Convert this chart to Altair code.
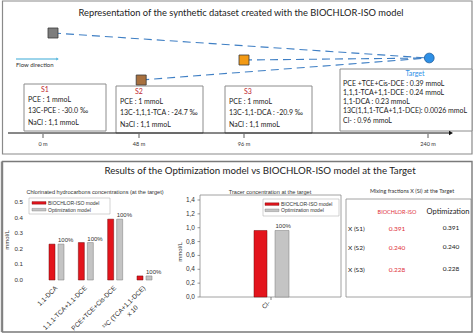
import altair as alt
import pandas as pd

W, H = 474, 336
SANS = "Lato"
ARIAL = "Liberation Sans"
RED = "#e3141c"
GRAY = "#c4c4c4"

# ---------------- data ----------------
source_names = ["S1", "S2", "S3"]
source_marker_m = [5, 49, 96]
source_colors = ["#7d7d7d", "#a8703e", "#f39a14"]
source_pce = ["PCE : 1 mmoL", "PCE : 1 mmoL", "PCE : 1 mmoL"]
source_isotope = ["13C-PCE : -30.0 \u2030", "13C-1,1,1-TCA : -24.7 \u2030", "13C-1,1-DCA : -20.9 \u2030"]
source_nacl = ["NaCl : 1,1 mmoL", "NaCl : 1,1 mmoL", "NaCl : 1,1 mmoL"]
target_m = 240
target_lines = [
    "PCE +TCE+Cis-DCE : 0.39 mmoL",
    "1,1,1-TCA+1,1-DCE : 0.24 mmoL",
    "1,1-DCA : 0.23 mmoL",
    "13C(1,1,1-TCA+1,1-DCE): 0.0026 mmoL",
    "Cl- : 0.96 mmoL",
]
dist_ticks_m = [0, 48, 96, 240]
dist_tick_labels = ["0 m", "48 m", "96 m", "240 m"]

ch_categories = ["1,1-DCA", "1,1,1-TCA+1,1-DCE", "PCE+TCE+Cis-DCE", "\u00b9\u00b3C (TCA+1,1-DCE)"]
ch_biochlor = [0.23, 0.24, 0.39, 0.026]
ch_optim = [0.23, 0.24, 0.39, 0.026]
ch_match = ["100%", "100%", "100%", "100%"]
ch_yticks = [0.0, 0.1, 0.2, 0.3, 0.4, 0.5]

tracer_categories = ["Cl-"]
tracer_biochlor = [0.96]
tracer_optim = [0.96]
tracer_match = ["100%"]
tracer_yticks = [0.0, 0.2, 0.4, 0.6, 0.8, 1.0, 1.2, 1.4]

mix_labels = ["X (S1)", "X (S2)", "X (S3)"]
mix_biochlor = [0.391, 0.240, 0.228]
mix_optim = [0.391, 0.240, 0.228]

# ---------------- scales ----------------
CX = alt.Scale(domain=[0, W], range=[0, W])
CY = alt.Scale(domain=[0, H], range=[0, H])
DX = alt.Scale(domain=[0, 48, 96, 240], range=[43, 139, 244, 428])  # distance (m) -> px
LX = alt.Scale(type="point", domain=ch_categories, range=[56.5, 144.5], padding=0)
LY = alt.Scale(domain=[0, 0.5], range=[280, 202])
MX = alt.Scale(type="point", domain=tracer_categories, range=[261, 281], padding=0.5)
MY = alt.Scale(domain=[0, 1.4], range=[297, 200])


def cx(f):
    return alt.X(f, type="quantitative", scale=CX, axis=None)


def cy(f):
    return alt.Y(f, type="quantitative", scale=CY, axis=None)


def texts(rows, size, color="#222222", align="left", font=SANS, angle=0, weight="normal"):
    df = pd.DataFrame(rows, columns=["x", "y", "t"])
    return alt.Chart(df).mark_text(
        align=align, baseline="middle", fontSize=size, color=color, font=font,
        angle=angle, fontWeight=weight
    ).encode(x=cx("x"), y=cy("y"), text="t:N")


def rects(rows, fill="white", stroke="#8c8c8c", sw=1.0, fill_opacity=1.0):
    df = pd.DataFrame(rows, columns=["x", "x2", "y", "y2"])
    return alt.Chart(df).mark_rect(
        fill=fill, stroke=stroke, strokeWidth=sw, fillOpacity=fill_opacity
    ).encode(x=cx("x"), x2="x2", y=cy("y"), y2="y2")


def hlines(rows, color, sw=1.0, dash=None):
    df = pd.DataFrame(rows, columns=["x", "x2", "y", "y2"])
    kw = dict(color=color, strokeWidth=sw)
    if dash:
        kw["strokeDash"] = dash
    return alt.Chart(df).mark_rule(**kw).encode(x=cx("x"), x2="x2", y=cy("y"), y2="y2")


layers = []

# ---------------- panel frames ----------------
layers.append(rects([[2.5, 472, 1, 154]], stroke="#8a8a8a", sw=1.2))
layers.append(rects([[2.5, 472, 161.5, 332]], stroke="#7a7a7a", sw=1.4))
layers.append(hlines([[1.6, 1.6, 161.5, 332]], "#8a8a8a", sw=1.6))

# ---------------- top diagram ----------------
layers.append(texts([[241, 13, "Representation of the synthetic dataset created with the BIOCHLOR-ISO model"]],
                    9.3, align="center"))

# dashed flow lines from each source marker to the target
marker_y = [33, 80, 60]
flow_df = pd.DataFrame({"m": source_marker_m, "y": marker_y,
                        "m2": [target_m] * 3, "y2": [58] * 3})
layers.append(alt.Chart(flow_df).mark_rule(color="#3f7fc4", strokeWidth=1.1, strokeDash=[8, 5]).encode(
    x=alt.X("m:Q", scale=DX, axis=None), x2="m2", y=cy("y"), y2="y2"))

# source boxes
box_left = [24, 116, 225]
box_right = [106, 203, 312]
box_top = [84, 86, 86]
layers.append(rects([[box_left[i], box_right[i], box_top[i], box_top[i] + 47] for i in range(3)]))
# target box
layers.append(rects([[340, 472, 69, 131]]))

# distance axis
layers.append(hlines([[8, 449, 133, 133]], "#111111", sw=1))
arrow_df = pd.DataFrame({"x": [451], "y": [133]})
layers.append(alt.Chart(arrow_df).mark_point(shape="triangle-right", size=22, filled=True, color="#111111",
                                             opacity=1).encode(x=cx("x"), y=cy("y")))
tick_df = pd.DataFrame({"m": dist_ticks_m, "lab": dist_tick_labels})
layers.append(alt.Chart(tick_df).mark_rule(color="#333333", strokeWidth=0.8).encode(
    x=alt.X("m:Q", scale=DX, axis=None), y=alt.value(134), y2=alt.value(138)))
layers.append(alt.Chart(tick_df).mark_text(fontSize=5.5, font=SANS, color="#333333", baseline="middle").encode(
    x=alt.X("m:Q", scale=DX, axis=None), y=alt.value(143.5), text="lab:N"))

# flow direction arrow
layers.append(hlines([[16, 56, 59, 59]], "#38a9d6", sw=1))
layers.append(alt.Chart(pd.DataFrame({"x": [57.5], "y": [59]})).mark_point(
    shape="triangle-right", size=8, filled=True, color="#38a9d6", opacity=1).encode(x=cx("x"), y=cy("y")))
layers.append(texts([[16, 64.5, "Flow direction"]], 6, color="#333333"))

# markers
mk_df = pd.DataFrame({"m": source_marker_m, "y": marker_y, "c": source_colors})
layers.append(alt.Chart(mk_df).mark_square(size=100, opacity=1, stroke="#3a3a3a", strokeWidth=0.8).encode(
    x=alt.X("m:Q", scale=DX, axis=None), y=cy("y"), fill=alt.Fill("c:N", scale=None)))
tg_df = pd.DataFrame({"m": [target_m + 1], "y": [58]})
layers.append(alt.Chart(tg_df).mark_circle(size=95, opacity=1, color="#2e90e6", stroke="#1d5c9c",
                                           strokeWidth=0.8).encode(
    x=alt.X("m:Q", scale=DX, axis=None), y=cy("y")))

# box texts
name_rows, line_rows = [], []
for i in range(3):
    lx = box_left[i] + 4
    t = box_top[i]
    name_rows.append([box_left[i] + 19 if i else box_left[i] + 17, t + 6, source_names[i]])
    line_rows.append([lx, t + 16, source_pce[i]])
    line_rows.append([lx, t + 27, source_isotope[i]])
    line_rows.append([lx, t + 39, source_nacl[i]])
layers.append(texts(name_rows, 7, color="#c0262d"))
layers.append(texts(line_rows, 7))
layers.append(texts([[415, 74, "Target"]], 7, color="#2e90e6", align="center"))
layers.append(texts([[343, 83.5 + 9.3 * i, target_lines[i]] for i in range(5)], 7))

# ---------------- bottom panel ----------------
layers.append(texts([[260, 171, "Results of the Optimization model vs BIOCHLOR-ISO model at the Target"]],
                    9.7, align="center"))

# --- left chart: chlorinated hydrocarbons ---
layers.append(texts([[95, 192, "Chlorinated hydrocarbons concentrations (at the target)"]], 5.6,
                    align="center", font=ARIAL, color="#333333"))
ch_df = pd.DataFrame({"cat": ch_categories, "bio": ch_biochlor, "opt": ch_optim, "m": ch_match})
layers.append(alt.Chart(ch_df).mark_bar(width=6, xOffset=-4.5, color=RED, stroke="#6e0a0a",
                                        strokeWidth=0.5).encode(
    x=alt.X("cat:N", scale=LX, axis=None), y=alt.Y("bio:Q", scale=LY, axis=None)))
layers.append(alt.Chart(ch_df).mark_bar(width=6, xOffset=4.5, color=GRAY, stroke="#7a7a7a",
                                        strokeWidth=0.5).encode(
    x=alt.X("cat:N", scale=LX, axis=None), y=alt.Y("opt:Q", scale=LY, axis=None)))
layers.append(alt.Chart(ch_df).mark_text(align="left", baseline="bottom", xOffset=1.5, yOffset=-1,
                                         fontSize=6, font=ARIAL, color="#333333").encode(
    x=alt.X("cat:N", scale=LX, axis=None), y=alt.Y("opt:Q", scale=LY, axis=None), text="m:N"))
layers.append(alt.Chart(ch_df).mark_text(align="right", baseline="middle", angle=315, xOffset=0,
                                         fontSize=6.6, font=ARIAL, color="#333333").encode(
    x=alt.X("cat:N", scale=LX, axis=None), y=alt.value(287), text="cat:N"))
layers.append(alt.Chart(pd.DataFrame({"cat": [ch_categories[3]], "t": ["x 10"]})).mark_text(
    align="center", baseline="middle", angle=315, xOffset=-12, fontSize=6.6, font=ARIAL,
    color="#333333").encode(x=alt.X("cat:N", scale=LX, axis=None), y=alt.value(311), text="t:N"))
lyt = pd.DataFrame({"v": ch_yticks, "lab": [f"{v:.1f}" for v in ch_yticks]})
layers.append(alt.Chart(lyt).mark_text(align="right", baseline="middle", fontSize=6.2, font=ARIAL,
                                       color="#333333").encode(
    x=alt.value(23), y=alt.Y("v:Q", scale=LY, axis=None), text="lab:N"))
layers.append(texts([[7, 240, "mmol/L"]], 6, align="center", font=ARIAL, angle=270, color="#333333"))
# legend
layers.append(rects([[29, 110, 198, 214]], stroke="#b5b5b5", sw=0.6))
layers.append(rects([[32, 46, 201.6, 204.2]], fill=RED, stroke="#6e0a0a", sw=0.4))
layers.append(rects([[32, 46, 208.4, 211]], fill=GRAY, stroke="#7a7a7a", sw=0.4))
layers.append(texts([[48, 203, "BIOCHLOR-ISO model"], [48, 209.8, "Optimization model"]], 5,
                    font=ARIAL, color="#333333"))

# --- middle chart: tracer ---
layers.append(texts([[270, 192, "Tracer concentration at the target"]], 5.6, align="center",
                    font=ARIAL, color="#333333"))
layers.append(rects([[200, 341, 195, 297]], stroke="#8c8c8c", sw=0.8))
tr_df = pd.DataFrame({"cat": tracer_categories, "bio": tracer_biochlor, "opt": tracer_optim,
                      "m": tracer_match})
layers.append(alt.Chart(tr_df).mark_bar(width=13, xOffset=-10.5, color=RED, stroke="#6e0a0a",
                                        strokeWidth=0.5).encode(
    x=alt.X("cat:N", scale=MX, axis=None), y=alt.Y("bio:Q", scale=MY, axis=None)))
layers.append(alt.Chart(tr_df).mark_bar(width=14, xOffset=11, color=GRAY, stroke="#7a7a7a",
                                        strokeWidth=0.5).encode(
    x=alt.X("cat:N", scale=MX, axis=None), y=alt.Y("opt:Q", scale=MY, axis=None)))
layers.append(alt.Chart(tr_df).mark_text(align="left", baseline="bottom", xOffset=4.5, yOffset=-1.5,
                                         fontSize=6, font=ARIAL, color="#333333").encode(
    x=alt.X("cat:N", scale=MX, axis=None), y=alt.Y("opt:Q", scale=MY, axis=None), text="m:N"))
layers.append(alt.Chart(tr_df).mark_rule(color="#555555", strokeWidth=0.7).encode(
    x=alt.X("cat:N", scale=MX, axis=None), y=alt.value(297), y2=alt.value(300)))
layers.append(alt.Chart(tr_df).mark_text(align="right", baseline="middle", angle=315, xOffset=-2,
                                         fontSize=6.5, font=ARIAL, color="#333333").encode(
    x=alt.X("cat:N", scale=MX, axis=None), y=alt.value(302), text="cat:N"))
myt = pd.DataFrame({"v": tracer_yticks, "lab": [f"{v:.1f}".replace(".", ",") for v in tracer_yticks]})
layers.append(alt.Chart(myt).mark_text(align="right", baseline="middle", fontSize=6.5, font=ARIAL,
                                       color="#333333").encode(
    x=alt.value(195), y=alt.Y("v:Q", scale=MY, axis=None), text="lab:N"))
layers.append(alt.Chart(myt).mark_rule(color="#555555", strokeWidth=0.6).encode(
    x=alt.value(197.5), x2=alt.value(200), y=alt.Y("v:Q", scale=MY, axis=None)))
layers.append(texts([[180, 252, "mmol/L"]], 6, align="center", font=ARIAL, angle=270, color="#333333"))
layers.append(rects([[263, 339, 199, 216]], stroke="#b5b5b5", sw=0.6))
layers.append(rects([[265, 279, 202.8, 205.4]], fill=RED, stroke="#6e0a0a", sw=0.4))
layers.append(rects([[265, 279, 209, 211.6]], fill=GRAY, stroke="#7a7a7a", sw=0.4))
layers.append(texts([[281, 204, "BIOCHLOR-ISO model"], [281, 210.3, "Optimization model"]], 5,
                    font=ARIAL, color="#333333"))

# --- right: mixing fractions table ---
layers.append(texts([[412, 191, "Mixing fractions X (Si) at the Target"]], 5.5, align="center",
                    color="#333333"))
layers.append(rects([[346, 471, 199, 297]], stroke="#8c8c8c", sw=0.8))
layers.append(texts([[397, 212, "BIOCHLOR-ISO"]], 5.5, align="center", color="#e0303a"))
layers.append(texts([[448, 212, "Optimization"]], 7.5, align="center"))
row_y = [229, 248, 270]
layers.append(texts([[348, row_y[i], mix_labels[i]] for i in range(3)], 6.5))
layers.append(texts([[397, row_y[i], f"{mix_biochlor[i]:.3f}"] for i in range(3)], 6.5,
                    align="center", color="#e0303a"))
layers.append(texts([[451, row_y[i] - 1, f"{mix_optim[i]:.3f}"] for i in range(3)], 6.5, align="center"))

chart = alt.layer(*layers).resolve_scale(x="independent", y="independent").properties(
    width=W, height=H, autosize=alt.AutoSizeParams(type="none"),
    padding={"left": 0, "top": 0, "right": 0, "bottom": 0},
).configure(background="white").configure_view(strokeWidth=0)

chart.save("out.html", embed_options={"renderer": "svg", "actions": False})
